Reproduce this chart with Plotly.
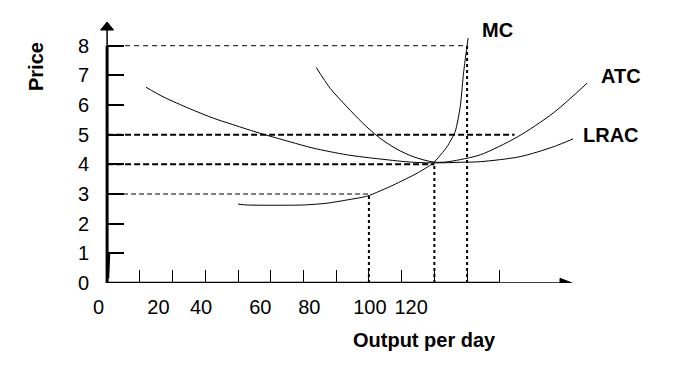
import plotly.graph_objects as go

# ---------------- data ----------------
price_ticks = [0, 1, 2, 3, 4, 5, 6, 7, 8]
output_ticks = list(range(0, 130, 10))
x_tick_labels = ["0", "20", "40", "60", "80", "100", "120"]
x_label_at = [-2.6, 15.7, 28.7, 46.8, 61.8, 80.3, 92.9]

lrac_x = [11.9, 17.1, 25.4, 32.4, 37.6, 45.8, 55.9, 62.9, 73.4, 83.5, 93.5, 100.9, 107.9, 114.0, 126.2, 136.3, 142.4]
lrac_y = [6.60, 6.28, 5.87, 5.56, 5.37, 5.08, 4.76, 4.55, 4.32, 4.18, 4.07, 4.05, 4.07, 4.09, 4.26, 4.59, 4.86]

atc_x = [63.9, 68.2, 73.3, 78.2, 83.4, 88.6, 93.5, 99.6, 103.5, 107.9, 114.0, 125.3, 136.3, 146.7]
atc_y = [7.27, 6.56, 5.94, 5.38, 4.88, 4.51, 4.26, 4.08, 4.08, 4.16, 4.32, 4.92, 5.73, 6.74]

mc_x = [40.0, 42.8, 59.9, 67.2, 73.3, 79.5, 87.4, 94.7, 99.6, 103.9, 106.4, 107.9, 108.8, 109.4, 110.0, 110.3]
mc_y = [2.66, 2.63, 2.63, 2.69, 2.80, 2.93, 3.30, 3.70, 4.04, 4.60, 5.12, 5.94, 6.96, 7.52, 7.99, 8.26]

stub_x = [0.5, 0.2]
stub_y = [1.0, 0.15]

price_levels = [8, 5, 4, 3]
level_ends = [110, 124.5, 100, 80]
level_widths = [1, 2, 2, 1]
level_dash = ["5px,4px", "6px,3px", "6px,3px", "5px,3px"]

drop_q = [80, 100, 110]
drop_top = [3, 4, 8]

# ---------------- layout geometry ----------------
W, H = 685, 372
ML, MR, MT, MB = 94, 87, 22, 89
XR = [-4, 150]
YR = [0, 8.8]
FONT = "Liberation Sans, Arial, sans-serif"

pw = W - ML - MR
ph = H - MT - MB


def px_to_paper(px, py):
    return (px - ML) / pw, (H - MB - py) / ph


fig = go.Figure()

line_style = dict(color="black", width=1)
fig.add_trace(go.Scatter(x=lrac_x, y=lrac_y, mode="lines", line=dict(line_style, shape="spline", smoothing=0.8), hoverinfo="skip"))
fig.add_trace(go.Scatter(x=atc_x, y=atc_y, mode="lines", line=dict(line_style, shape="spline", smoothing=0.8), hoverinfo="skip"))
fig.add_trace(go.Scatter(x=mc_x, y=mc_y, mode="lines", line=dict(line_style, shape="spline", smoothing=0.6), hoverinfo="skip"))
fig.add_trace(go.Scatter(x=stub_x, y=stub_y, mode="lines", line=dict(color="black", width=3), hoverinfo="skip"))

for lvl, end, w, d in zip(price_levels, level_ends, level_widths, level_dash):
    fig.add_trace(go.Scatter(x=[0, end], y=[lvl, lvl], mode="lines",
                             line=dict(color="black", width=w, dash=d), hoverinfo="skip"))
for q, top in zip(drop_q, drop_top):
    fig.add_trace(go.Scatter(x=[q, q], y=[0, top], mode="lines",
                             line=dict(color="black", width=2, dash="3px,3px"), hoverinfo="skip"))

# invisible trace to activate label axis
fig.add_trace(go.Scatter(x=[0], y=[0], xaxis="x2", mode="markers", marker=dict(opacity=0), hoverinfo="skip"))

xpx = pw / (XR[1] - XR[0])
x_tip = (572 - (ML + (0 - XR[0]) * xpx)) / xpx
shapes = [
    dict(type="line", x0=0, x1=0, y0=0, y1=8, line=dict(color="black", width=3)),
    dict(type="line", x0=0, x1=0, y0=8, y1=YR[1] - 0.2, line=dict(color="black", width=1.5)),
    dict(type="line", x0=0, x1=120, y0=0, y1=0, line=dict(color="black", width=2.5)),
    dict(type="line", x0=120, x1=x_tip - 3, y0=0, y1=0, line=dict(color="black", width=1.5)),
    dict(type="path", xref="x", yref="y", xsizemode="pixel", ysizemode="pixel",
         xanchor=x_tip, yanchor=0, path="M -12,-4.7 L -12,4.7 L 0,0 Z",
         fillcolor="black", line=dict(color="black", width=1)),
    dict(type="path", xref="x", yref="y", xsizemode="pixel", ysizemode="pixel",
         xanchor=0, yanchor=YR[1], path="M -6.5,-8 L 6.5,-8 L 0,0 Z",
         fillcolor="black", line=dict(color="black", width=1)),
]

annotations = []
for txt, (px, py) in [("MC", (497, 30)), ("ATC", (621, 76)), ("LRAC", (611, 135))]:
    ax_, ay_ = px_to_paper(px, py)
    annotations.append(dict(text=txt, x=ax_, y=ay_, xref="paper", yref="paper", showarrow=False,
                            xanchor="center", yanchor="middle",
                            font=dict(family=FONT, size=20, color="black", weight="bold")))
tx, ty = px_to_paper(424, 340)
annotations.append(dict(text="Output per day", x=tx, y=ty, xref="paper", yref="paper", showarrow=False,
                        xanchor="center", yanchor="middle",
                        font=dict(family=FONT, size=20, color="black", weight="bold")))
tx, ty = px_to_paper(36, 67)
annotations.append(dict(text="Price", x=tx, y=ty, xref="paper", yref="paper", showarrow=False,
                        textangle=-90, xanchor="center", yanchor="middle",
                        font=dict(family=FONT, size=20, color="black", weight="bold")))

fig.update_layout(
    width=W, height=H,
    margin=dict(l=ML, r=MR, t=MT, b=MB, pad=0),
    paper_bgcolor="white", plot_bgcolor="white",
    showlegend=False,
    shapes=shapes,
    annotations=annotations,
    xaxis=dict(range=XR, tickvals=output_ticks, ticks="inside", ticklen=13, tickwidth=1,
               tickcolor="black", showticklabels=False, showgrid=False, zeroline=False,
               showline=False),
    xaxis2=dict(range=XR, overlaying="x", anchor="y", side="bottom",
                tickvals=x_label_at, ticktext=x_tick_labels, ticks="", showgrid=False,
                zeroline=False, showline=False, ticklabelstandoff=10,
                tickfont=dict(family=FONT, size=20, color="black")),
    yaxis=dict(range=YR, tickvals=price_ticks, ticks="inside", ticklen=16, tickwidth=1.5,
               tickcolor="black", anchor="free", position=(0 - XR[0]) / (XR[1] - XR[0]),
               showgrid=False, zeroline=False, showline=False, ticklabelstandoff=18,
               tickfont=dict(family=FONT, size=20, color="black")),
)

fig.write_html("out.html")
